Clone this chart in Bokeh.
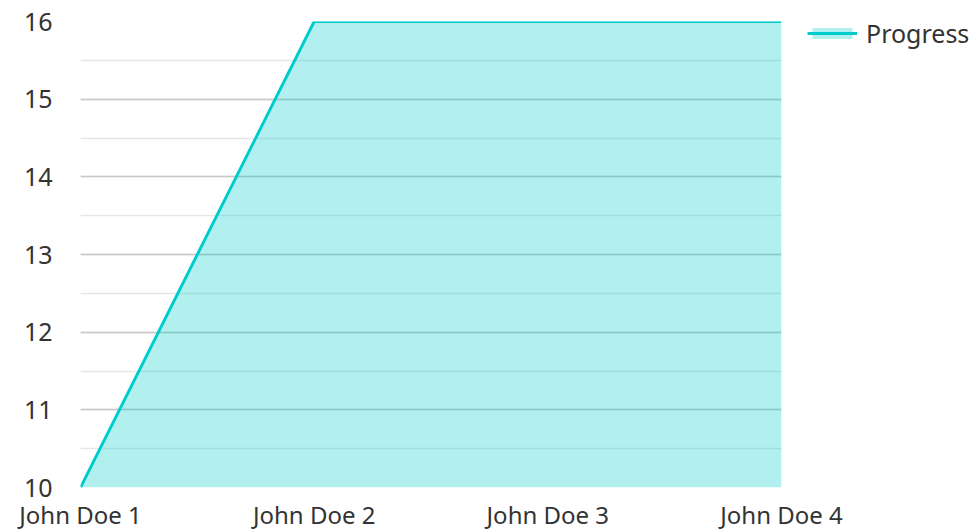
from bokeh.plotting import figure
from bokeh.models import (ColumnDataSource, FixedTicker, SingleIntervalTicker,
                          Legend, LegendItem, Range1d)
from bokeh.embed import file_html
from bokeh.resources import INLINE

categories = ["John Doe 1", "John Doe 2", "John Doe 3", "John Doe 4"]
progress = [10, 16, 16, 16]
y_min, y_max = 10, 16

xs = list(range(len(categories)))
src = ColumnDataSource(dict(x=xs, y=progress, base=[y_min] * len(xs)))

FONT = "Noto Sans"
TEXT = "#333333"
CYAN = "#00cccc"
FS = "25px"

p = figure(frame_width=701, frame_height=466, output_backend="svg", toolbar_location=None,
           x_range=Range1d(0, len(xs) - 1), y_range=Range1d(y_min, y_max),
           min_border_left=80, min_border_top=21, min_border_bottom=0,
           min_border_right=0)
p.outline_line_color = None

area = p.varea(x="x", y1="base", y2="y", source=src, fill_color=CYAN, fill_alpha=0.3)
line = p.line(x="x", y="y", source=src, line_color=CYAN, line_width=3)

p.xaxis.ticker = FixedTicker(ticks=xs)
p.xaxis.major_label_overrides = {i: c for i, c in enumerate(categories)}
p.yaxis.ticker = SingleIntervalTicker(interval=1, num_minor_ticks=2)

for ax in (p.xaxis[0], p.yaxis[0]):
    ax.axis_line_color = None
    ax.major_tick_line_color = None
    ax.minor_tick_line_color = None
    ax.major_label_text_font = FONT
    ax.major_label_text_font_size = FS
    ax.major_label_text_color = TEXT
p.xaxis.major_label_text_font_size = "24px"
p.yaxis.major_label_standoff = 22
p.xaxis.major_label_standoff = 4

p.xgrid.grid_line_color = None
p.ygrid.grid_line_color = "#c8c8c8"
p.ygrid.grid_line_width = 1.5
p.ygrid.minor_grid_line_color = "#e6e6e6"
p.ygrid.minor_grid_line_width = 1.5

legend = Legend(items=[LegendItem(label="Progress", renderers=[area, line])],
                location=(26, 437), orientation="vertical",
                label_text_font=FONT, label_text_font_size=FS,
                label_text_color=TEXT, glyph_width=50, glyph_height=14,
                label_standoff=9, border_line_color=None, background_fill_alpha=0,
                padding=0, margin=0, spacing=0)
p.add_layout(legend, "right")

open("out.html", "w").write(file_html(p, INLINE))
